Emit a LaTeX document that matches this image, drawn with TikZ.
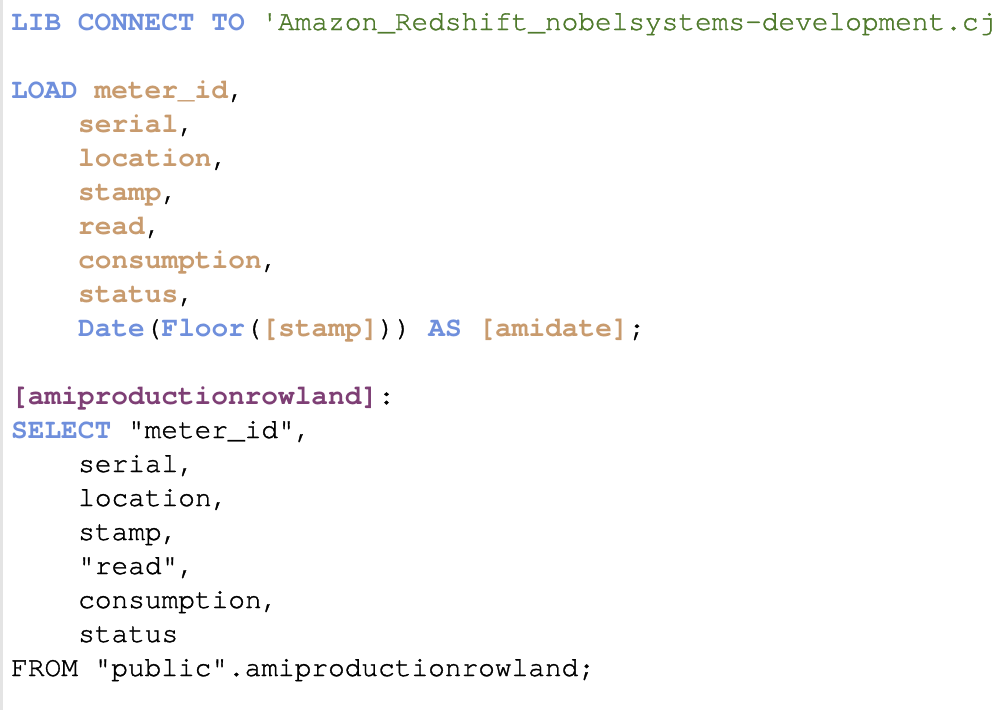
\documentclass[tikz,border=0pt]{standalone}
\usepackage{fontspec}
\newfontfamily\codefont{texgyrecursor}[Extension=.otf, UprightFont=*-regular, BoldFont=*-bold, UprightFeatures={FakeBold=1.2}]
\definecolor{kwblue}{HTML}{6F8FDC}
\definecolor{fldtan}{HTML}{C89B6E}
\definecolor{litgreen}{HTML}{4F7A2C}
\definecolor{tblpurple}{HTML}{7E3F75}
\definecolor{gutter}{HTML}{E4E4E4}
\newcommand{\kwd}[1]{\textcolor{kwblue}{\textbf{#1}}}
\newcommand{\fld}[1]{\textcolor{fldtan}{\textbf{#1}}}
\newcommand{\lit}[1]{\textcolor{litgreen}{#1}}
\newcommand{\tbl}[1]{\textcolor{tblpurple}{\textbf{#1}}}
\newcommand{\dq}{\symbol{34}}
\newcommand{\sq}{\symbol{39}}

\begin{document}
\begin{tikzpicture}[x=1pt, y=-1pt,
    code/.style={anchor=base west, inner sep=0pt, font=\codefont\fontsize{27.8}{34}\selectfont}]

    \clip (0,0) rectangle (996,710);
    \fill[white] (0,0) rectangle (996,710);
    \fill[gutter] (0,0) rectangle (3,710);

    % connection
    \node[code] (connect) at (11,30) {\kwd{LIB CONNECT TO} \lit{\sq Amazon\_Redshift\_nobelsystems-development.cj}};

    % preceding load
    \node[code] (load)  at (11,98)  {\kwd{LOAD} \fld{meter\_id},};
    \node[code] (ld1)   at (78,132) {\fld{serial},};
    \node[code] (ld2)   at (78,166) {\fld{location},};
    \node[code] (ld3)   at (78,200) {\fld{stamp},};
    \node[code] (ld4)   at (78,234) {\fld{read},};
    \node[code] (ld5)   at (78,268) {\fld{consumption},};
    \node[code] (ld6)   at (78,302) {\fld{status},};
    \node[code] (ld7)   at (78,336) {\kwd{Date}(\kwd{Floor}(\fld{[stamp]})) \kwd{AS} \fld{[amidate]};};

    % table label
    \node[code] (label) at (11,404) {\tbl{[amiproductionrowland]}:};

    % select
    \node[code] (select) at (11,438) {\kwd{SELECT} \dq meter\_id\dq,};
    \node[code] (sl1)   at (78,472) {serial,};
    \node[code] (sl2)   at (78,506) {location,};
    \node[code] (sl3)   at (78,540) {stamp,};
    \node[code] (sl4)   at (78,574) {\dq read\dq,};
    \node[code] (sl5)   at (78,608) {consumption,};
    \node[code] (sl6)   at (78,642) {status};
    \node[code] (from)  at (11,676) {FROM \dq public\dq.amiproductionrowland;};

\end{tikzpicture}
\end{document}
